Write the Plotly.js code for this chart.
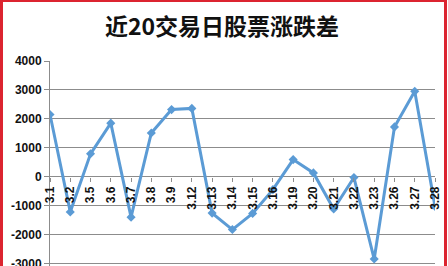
<!DOCTYPE html>
<html>
<head>
<meta charset="utf-8">
<script src="https://cdn.plot.ly/plotly-3.0.1.min.js"></script>
<style>
  html, body { margin: 0; padding: 0; background: #fff; }
  #wrap { position: relative; width: 448px; height: 266px; overflow: hidden; }
  #chart { position: absolute; left: 0; top: 0; width: 448px; height: 266px; }
  .bd { position: absolute; background: #dc2430; }
</style>
</head>
<body>
<div id="wrap">
  <div id="chart"></div>
  <div class="bd" style="left:0;top:0;width:3px;height:266px;"></div>
  <div class="bd" style="left:0;top:0;width:447px;height:2px;"></div>
  <div class="bd" style="left:444px;top:0;width:3px;height:266px;"></div>
</div>
<script>
const titleText = '近20交易日股票涨跌差';
const dates = ['3.1','3.2','3.5','3.6','3.7','3.8','3.9','3.12','3.13','3.14',
               '3.15','3.16','3.19','3.20','3.21','3.22','3.23','3.26','3.27','3.28'];
const diffValues = [2150, -1220, 790, 1850, -1400, 1510, 2320, 2360, -1260, -1830,
                    -1270, -450, 590, 130, -1120, -30, -2850, 1720, 2950, -1030];
const yTicks = [-3000, -2000, -1000, 0, 1000, 2000, 3000, 4000];

const yMin = -3090, yMax = 4000;

const trace = {
  type: 'scatter',
  mode: 'lines+markers',
  x: dates,
  y: diffValues,
  line: { color: '#5b9bd5', width: 3 },
  marker: { symbol: 'diamond', size: 7, color: '#5b9bd5' },
  hoverinfo: 'skip'
};

const layout = {
  width: 448, height: 266,
  margin: { l: 50, r: 13, t: 61, b: 0, pad: 0 },
  paper_bgcolor: '#ffffff',
  plot_bgcolor: '#ffffff',
  showlegend: false,
  title: {
    text: titleText,
    font: { family: '"Noto Sans CJK SC", sans-serif', size: 23, color: '#111111', weight: 'bold' },
    x: 222 / 448, xref: 'container', xanchor: 'center',
    y: 1 - 27 / 266, yref: 'container', yanchor: 'middle'
  },
  xaxis: {
    type: 'category',
    range: [0, dates.length - 1],
    anchor: 'free',
    position: (0 - yMin) / (yMax - yMin),
    showgrid: false,
    showline: false,
    zeroline: false,
    ticks: 'outside',
    ticklen: 4,
    tickcolor: '#8c8c8c',
    tickangle: -90,
    tickfont: { family: 'Liberation Sans, Arial, sans-serif', size: 12, color: '#111111', weight: 'bold' },
    fixedrange: true
  },
  yaxis: {
    range: [yMin, yMax],
    tickvals: yTicks,
    ticktext: yTicks.map(String),
    ticklabeloverflow: 'allow',
    showgrid: true,
    gridcolor: '#8c8c8c',
    gridwidth: 1,
    zeroline: true,
    zerolinecolor: '#8c8c8c',
    zerolinewidth: 1,
    showline: true,
    linecolor: '#8c8c8c',
    linewidth: 1,
    ticks: 'outside',
    ticklen: 5,
    tickcolor: '#8c8c8c',
    tickfont: { family: 'Liberation Sans, Arial, sans-serif', size: 12, color: '#111111', weight: 'bold' },
    fixedrange: true
  }
};

Plotly.newPlot('chart', [trace], layout, { displayModeBar: false, staticPlot: true });
</script>
</body>
</html>
